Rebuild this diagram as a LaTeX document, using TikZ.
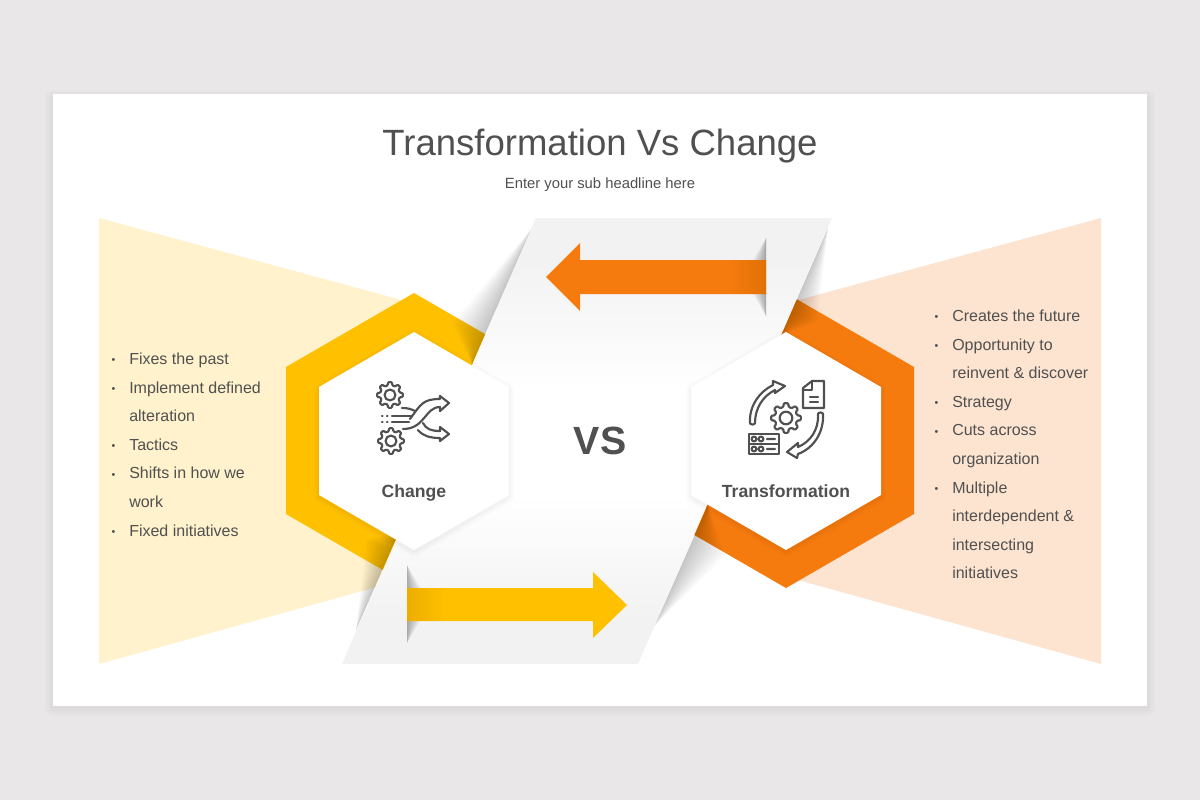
\documentclass[tikz,border=0pt]{standalone}
\usepackage{fontspec}
\setmainfont{Liberation Sans}
\usetikzlibrary{calc}
\definecolor{pagegrey}{HTML}{E9E7E8}
\definecolor{bandgrey}{HTML}{F2F2F2}
\definecolor{inkgrey}{HTML}{505050}
\definecolor{changeyellow}{HTML}{FFC000}
\definecolor{transorange}{HTML}{F57B0F}
\definecolor{paleyellow}{HTML}{FFF2CC}
\definecolor{paleorange}{HTML}{FDE4D0}
\pgfdeclareverticalshading{bandshade}{100bp}{color(0bp)=(bandgrey);color(30bp)=(bandgrey);color(44bp)=(white);color(56bp)=(white);color(70bp)=(bandgrey);color(100bp)=(bandgrey)}
\tikzset{
  listtext/.style={text=inkgrey, font=\fontsize{12}{21.45}\selectfont, align=left, inner sep=0pt},
  iconline/.style={draw=inkgrey, line width=1.6pt, line join=round, line cap=round},
  hexlabel/.style={text=inkgrey, font=\fontsize{13.2}{16}\selectfont\bfseries, inner sep=0pt},
  softline/.style={draw=black, opacity=.012, line join=round},
  gearicon/.pic={
    \draw[iconline, rounded corners=.8pt] (-13:.76)
      \foreach \a in {0,45,...,315} { -- ({\a-13}:.76) -- ({\a-9}:1) -- ({\a+9}:1) -- ({\a+13}:.76) } -- cycle;
    \draw[iconline] (0,0) circle[radius=.42];
  }
}
% a stack of thin triangles on the side a-b, the tip walking from p to q
\newcommand\edgeshadow[5][.016]{
  \foreach \t in {.07,.14,...,1.0}
    \fill[black, opacity=#1] #2 -- #3 -- ($#4!\t!#5$) -- cycle;
}
\newcommand\bul{\llap{\raisebox{.5pt}{\fontsize{8}{8}\selectfont\textbullet}\hspace{10.5pt}}}
\begin{document}
\begin{tikzpicture}[x=.75pt, y=-.75pt]
  \useasboundingbox (0,0) rectangle (1200,800);
  \fill[pagegrey] (0,0) rectangle (1200,800);
  % card
  \foreach \w in {4,8,12,16}
    \draw[softline, line width=\w*.75pt] (53,98) rectangle (1147,708);
  \fill[white] (53,94) rectangle (1147,706);
  % pale triangles
  \fill[paleyellow] (99,218) -- (420,305) -- (420,575) -- (99,664) -- cycle;
  \fill[paleorange] (1101,218) -- (780,305) -- (780,575) -- (1101,664) -- cycle;
  % outer hexagons
  \fill[changeyellow] (414,293) -- (542,367) -- (542,514) -- (414,588) -- (286,514) -- (286,367) -- cycle;
  \fill[transorange] (786,293) -- (914,367) -- (914,514) -- (786,588) -- (658,514) -- (658,367) -- cycle;
  % shadows under the band
  \edgeshadow{(532,228)}{(472,364)}{(484,337)}{(452,322)}
  \edgeshadow{(828,228)}{(781,335)}{(792,310)}{(818,322)}
  \edgeshadow{(400,530)}{(356,630)}{(390,552)}{(366,540)}
  \edgeshadow{(708,505)}{(655,625)}{(692,541)}{(726,556)}
  % band
  \shade[shading=bandshade] (536,218) -- (832,218) -- (638,664) -- (342,664) -- cycle;
  % orange arrow
  \edgeshadow[.025]{(766,238)}{(766,316)}{(766,277)}{(742,277)}
  \fill[transorange] (546,277) -- (580,243) -- (580,260) -- (766,260) -- (766,294) -- (580,294) -- (580,311) -- cycle;
  \foreach \d in {4,8,...,36}
    \fill[black, opacity=.008] ({766-\d},260) rectangle (766,294);
  % yellow arrow
  \edgeshadow[.025]{(407,565)}{(407,643)}{(407,604)}{(431,604)}
  \fill[changeyellow] (627,605) -- (593,572) -- (593,588) -- (407,588) -- (407,621) -- (593,621) -- (593,638) -- cycle;
  \foreach \d in {4,8,...,36}
    \fill[black, opacity=.008] (407,588) rectangle ({407+\d},621);
  % white hexagons
  \foreach \w in {2,4,7,10} {
    \draw[softline, line width=\w*.75pt] (414,334) -- (509,389) -- (509,497) -- (414,552) -- (319,497) -- (319,389) -- cycle;
    \draw[softline, line width=\w*.75pt] (786,334) -- (881,389) -- (881,497) -- (786,552) -- (691,497) -- (691,389) -- cycle;
  }
  \fill[white] (414,332) -- (509,387) -- (509,495) -- (414,550) -- (319,495) -- (319,387) -- cycle;
  \fill[white] (786,332) -- (881,387) -- (881,495) -- (786,550) -- (691,495) -- (691,387) -- cycle;
  % change icon
  \pic[scale=13] at (390,395) {gearicon};
  \pic[scale=13] at (391,441) {gearicon};
  \draw[iconline] (449,403) -- (440,396) (449,403) -- (440,411);
  \draw[iconline] (440,396) -- (440,399) .. controls (423,399) and (421,404) .. (410,419);
  \draw[iconline] (440,411) -- (440,407) .. controls (425,407) and (425,429) .. (403,429);
  \draw[iconline] (402,408) .. controls (408,408) and (411,409) .. (415,411);
  \draw[iconline] (382,416) -- (382.5,416) (387,416) -- (387.5,416) (392,416) -- (412,416);
  \draw[iconline] (382,422) -- (382.5,422) (387,422) -- (387.5,422) (392,422) -- (409,422);
  \draw[iconline] (449,434) -- (440,427) -- (440,431) .. controls (431,431) and (426,429) .. (423,423);
  \draw[iconline] (449,434) -- (440,441) -- (440,438) .. controls (430,438) and (423,436) .. (418,430);
  % transformation icon
  \pic[scale=15] at (786,418) {gearicon};
  \draw[iconline] (803,388) -- (812,381) -- (824,381) -- (824,408) -- (803,408) -- cycle;
  \draw[iconline] (812,381) -- (812,390) -- (803,390);
  \draw[iconline] (810,397) -- (818,397) (810,402) -- (818,402);
  \draw[iconline] (749,434) rectangle (779,444);
  \draw[iconline] (749,444) rectangle (779,454);
  \draw[iconline] (754,439) circle[radius=2.4] (761,439) circle[radius=2.4] (767,439) -- (775,439);
  \draw[iconline] (754,449) circle[radius=2.4] (761,449) circle[radius=2.4] (767,449) -- (775,449);
  \draw[iconline] (750,423) .. controls (749,406) and (759,392) .. (773,385) -- (773,381) -- (785,386) -- (775,393) -- (775,390)
    .. controls (763,396) and (755,408) .. (755,423) .. controls (755,425) and (750,425) .. (750,423);
  \draw[iconline] (823,414) .. controls (824,432) and (814,448) .. (798,454) -- (797,458) -- (787,452) -- (798,443) -- (798,447)
    .. controls (810,442) and (819,430) .. (818,414) .. controls (818,412) and (823,412) .. (823,414);
  % texts
  \node[text=inkgrey, font=\fontsize{27.4}{34}\selectfont, inner sep=0pt] (title) at (600,146) {Transformation Vs Change};
  \node[text=inkgrey, font=\fontsize{11.1}{13}\selectfont, inner sep=0pt] (subtitle) at (600,185) {Enter your sub headline here};
  \node[text=inkgrey, font=\fontsize{29.5}{36}\selectfont\bfseries, inner sep=0pt] (vs) at (600,441) {VS};
  \node[hexlabel] (changelabel) at (414,493) {Change};
  \node[hexlabel] (translabel) at (786,491) {Transformation};
  \node[listtext, anchor=west] (changelist) at (129,444.5) {\bul Fixes the past\\\bul Implement defined\\alteration\\\bul Tactics\\\bul Shifts in how we\\work\\\bul Fixed initiatives};
  \node[listtext, anchor=west] (translist) at (952,444.5) {\bul Creates the future\\\bul Opportunity to\\reinvent \& discover\\\bul Strategy\\\bul Cuts across\\organization\\\bul Multiple\\interdependent \&\\intersecting\\initiatives};
\end{tikzpicture}
\end{document}
